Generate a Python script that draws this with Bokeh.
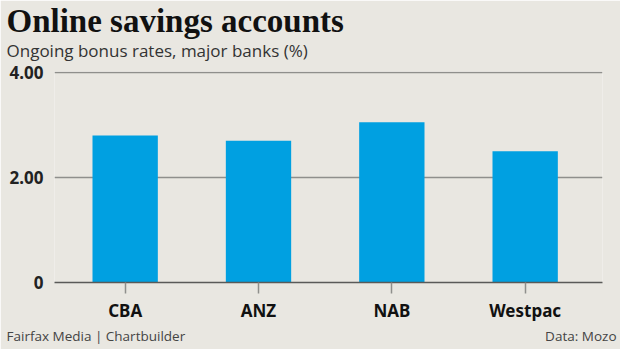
from bokeh.plotting import figure
from bokeh.models import Range1d, FixedTicker, Title
from bokeh.embed import file_html
from bokeh.resources import INLINE

banks = ["CBA", "ANZ", "NAB", "Westpac"]
rates = [2.80, 2.70, 3.05, 2.50]
y_ticks = [0, 2, 4]
y_tick_labels = ["0", "2.00", "4.00"]

BG = "#e9e7e1"
BAR = "#00a0e1"

xs = list(range(len(banks)))

p = figure(width=620, height=349, output_backend="svg", toolbar_location=None,
           x_range=Range1d(-0.53, 3.58), y_range=Range1d(0, 4.019),
           min_border_left=54, min_border_right=18, min_border_top=71, min_border_bottom=67)
p.background_fill_color = BG
p.border_fill_color = BG
p.outline_line_color = None

p.vbar(x=xs, top=rates, width=0.49, bottom=0, fill_color=BAR, line_color=None)

# y axis
p.yaxis.ticker = FixedTicker(ticks=y_ticks)
p.yaxis.major_label_overrides = {t: l for t, l in zip(y_ticks, y_tick_labels)}
p.yaxis.axis_line_color = None
p.yaxis.major_tick_line_color = None
p.yaxis.major_tick_out = 0
p.yaxis.major_tick_in = 0
p.yaxis.minor_tick_line_color = None
p.yaxis.major_label_standoff = 11
p.yaxis.major_label_text_font = "Noto Sans"
p.yaxis.major_label_text_font_size = "17px"
p.yaxis.major_label_text_font_style = "bold"
p.yaxis.major_label_text_color = "#222222"

p.ygrid.ticker = FixedTicker(ticks=[2, 4])
p.ygrid.grid_line_color = "#8f8f8c"
p.ygrid.grid_line_width = 1.5
p.xgrid.grid_line_color = None

# x axis
p.xaxis.ticker = FixedTicker(ticks=xs)
p.xaxis.major_label_overrides = {i: b for i, b in zip(xs, banks)}
p.xaxis.axis_line_color = "#5a5a58"
p.xaxis.axis_line_width = 1.5
p.xaxis.major_tick_line_color = "#8f8f8c"
p.xaxis.major_tick_line_width = 1.5
p.xaxis.major_tick_in = 0
p.xaxis.major_tick_out = 11
p.xaxis.minor_tick_line_color = None
p.xaxis.major_label_standoff = 5
p.xaxis.major_label_text_font = "Noto Sans"
p.xaxis.major_label_text_font_size = "17px"
p.xaxis.major_label_text_font_style = "bold"
p.xaxis.major_label_text_color = "#111111"

p.add_layout(Title(text="Ongoing bonus rates, major banks (%)", align="left", offset=-48,
                   text_font="Open Sans", text_font_size="17px", text_font_style="normal",
                   text_color="#333333", vertical_align="top", standoff=15), "above")
p.add_layout(Title(text="Online savings accounts", align="left", offset=-48,
                   text_font="Liberation Serif", text_font_size="33px", text_font_style="bold",
                   text_color="#111111", standoff=-15), "above")

p.add_layout(Title(text="Fairfax Media | Chartbuilder", align="left", offset=-48,
                   text_font="Open Sans", text_font_size="13.5px", text_font_style="normal",
                   text_color="#444444", standoff=0), "below")
p.add_layout(Title(text="Data: Mozo", align="right", offset=-14,
                   text_font="Open Sans", text_font_size="13.5px", text_font_style="normal",
                   text_color="#444444", vertical_align="top", standoff=-36), "below")

open("out.html", "w").write(file_html(p, INLINE))
